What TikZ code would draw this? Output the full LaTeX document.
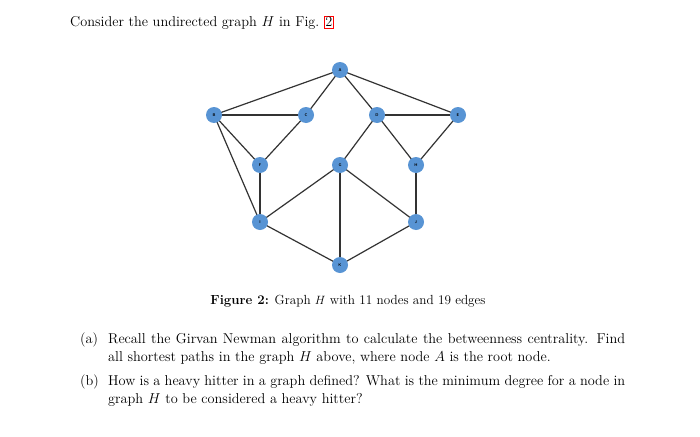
\documentclass[tikz,border=0pt]{standalone}
\usepackage{amsmath}
\begin{document}
\begin{tikzpicture}[x=1pt,y=-1pt,
  vert/.style={circle,fill=nodeblue,minimum size=16pt,inner sep=0pt,font=\sffamily\fontsize{4}{4}\selectfont\bfseries},
  edge/.style={draw=black!80,line width=1.2pt},
  body/.style={font=\fontsize{14.3}{18}\selectfont,inner sep=0pt,anchor=north west,align=justify,text width=517pt}]
\definecolor{nodeblue}{RGB}{88,148,212}
\useasboundingbox[fill=white] (0,0) rectangle (700,436);
\node[anchor=west,inner sep=0pt,font=\fontsize{14.3}{16}\selectfont] (title) at (70,23) {Consider the undirected graph $H$ in Fig.~\tikz[baseline=(t.base)]\node[draw=red,inner sep=1pt,line width=0.6pt](t){2};};
\foreach \n/\x/\y in {A/340/70,B/214/115,C/306/115,D/377/115,E/458/115,F/260/165,G/340/165,H/416/165,I/260/222,J/416/222,K/340/265}
  \coordinate (c\n) at (\x,\y);
\foreach \a/\b in {A/B,A/C,A/D,A/E,B/C,B/F,B/I,C/F,D/E,D/G,D/H,E/H,F/I,G/I,G/J,G/K,H/J,I/K,J/K}
  \draw[edge] (c\a) -- (c\b);
\foreach \n in {A,B,C,D,E,F,G,H,I,J,K}
  \node[vert] (\n) at (c\n) {\n};
\node[font=\fontsize{13.2}{14}\selectfont,inner sep=0pt] (cap) at (348,301) {\textbf{Figure 2:} Graph $H$ with 11 nodes and 19 edges};
\node[anchor=north west,inner sep=0pt,font=\fontsize{14.3}{18}\selectfont] (la) at (80,333) {(a)};
\node[body] (ta) at (108,333) {Recall the Girvan Newman algorithm to calculate the betweenness centrality. Find all shortest paths in the graph $H$ above, where node $A$ is the root node.};
\node[anchor=north west,inner sep=0pt,font=\fontsize{14.3}{18}\selectfont] (lb) at (80,375) {(b)};
\node[body] (tb) at (108,375) {How is a heavy hitter in a graph defined? What is the minimum degree for a node in graph $H$ to be considered a heavy hitter?};
\end{tikzpicture}
\end{document}
